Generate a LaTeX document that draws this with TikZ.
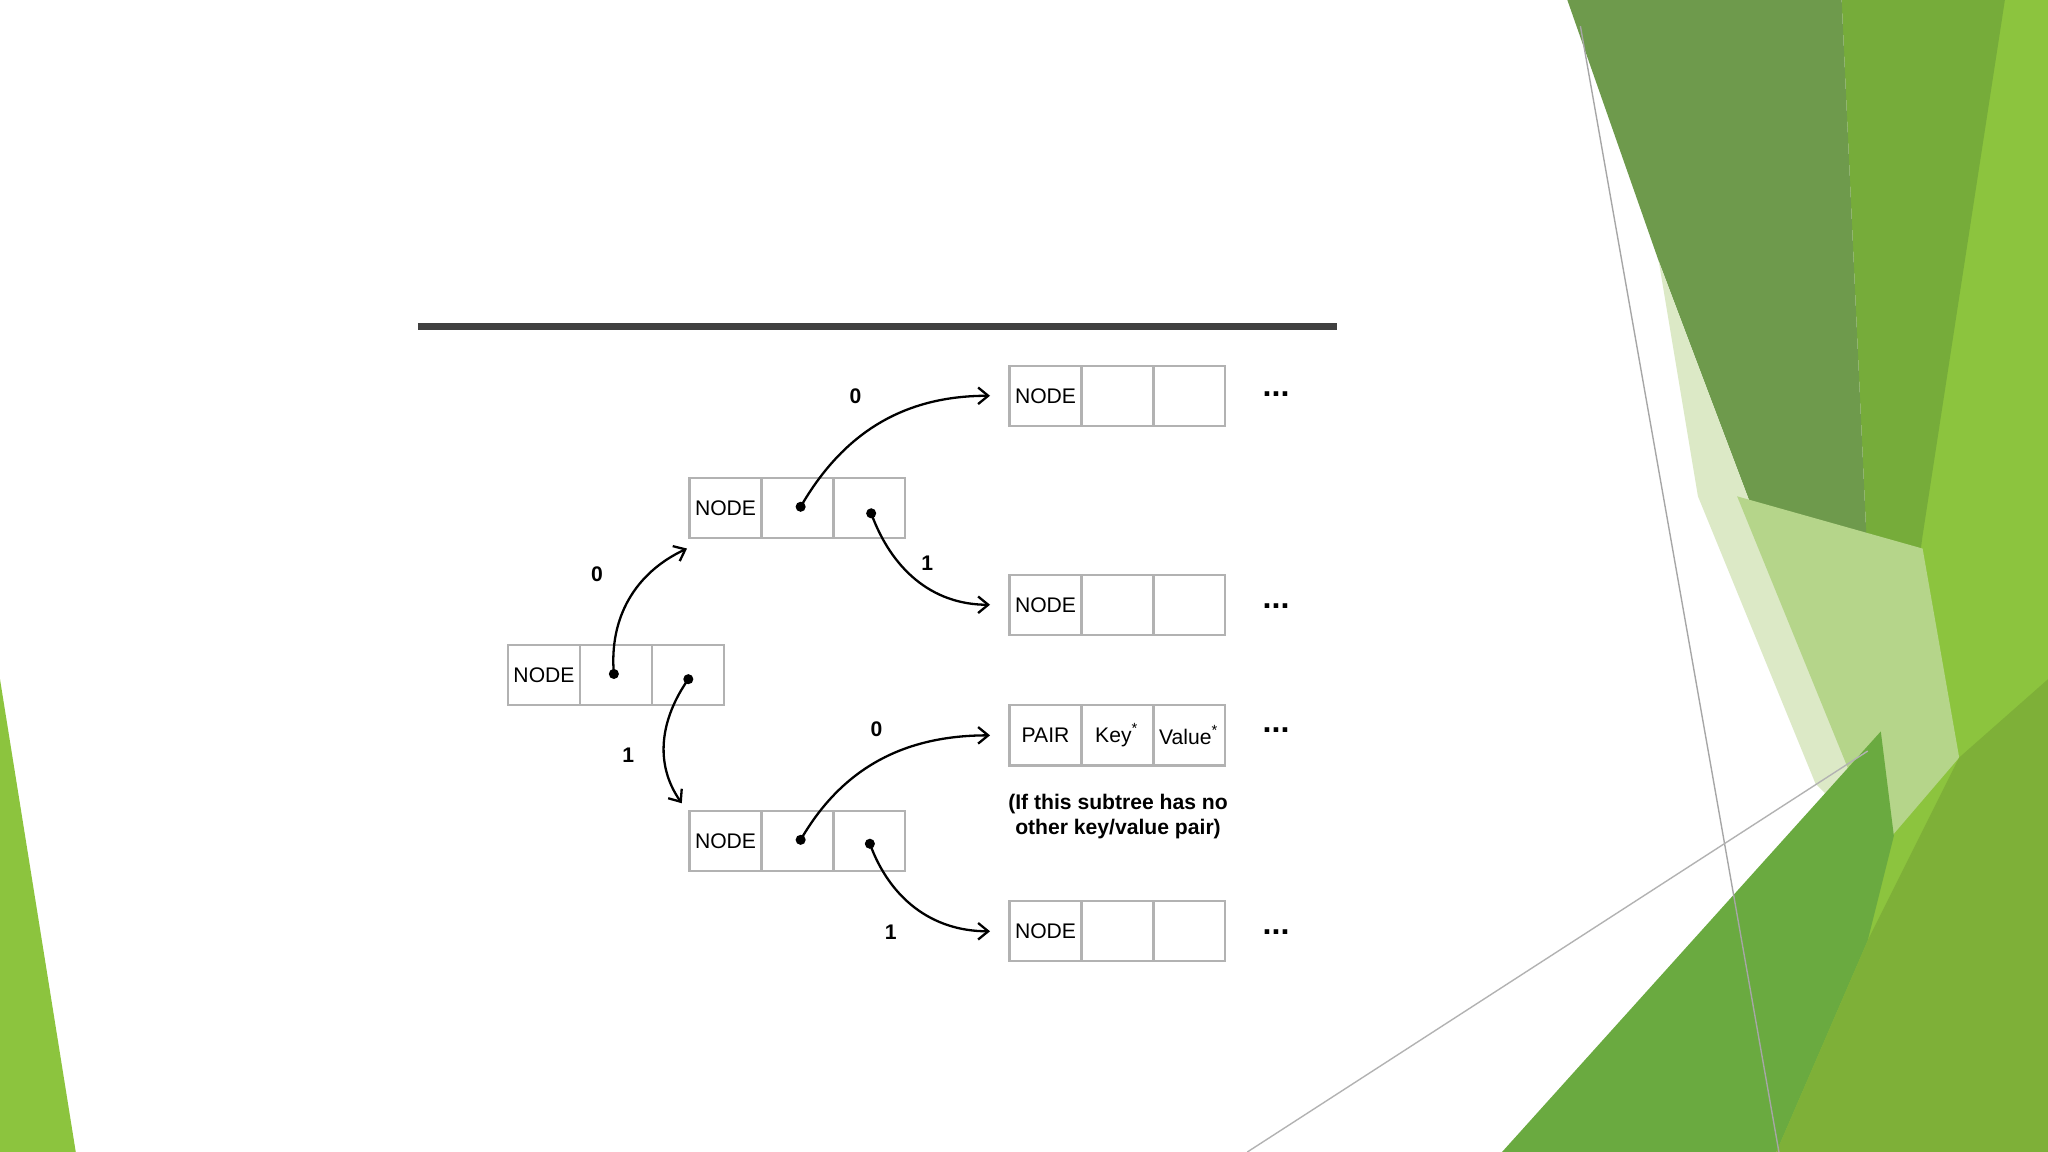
\documentclass[tikz,border=0pt]{standalone}
\usepackage{fontspec}
\setmainfont{Liberation Sans}
\usetikzlibrary{arrows.meta}
\definecolor{darkg}{HTML}{6E9A4C}
\definecolor{medg}{HTML}{76AC3A}
\definecolor{brightg}{HTML}{8CC43E}
\definecolor{paleg}{HTML}{DCE9C6}
\definecolor{lightg}{HTML}{B5D58A}
\definecolor{deepg}{HTML}{6AAA40}
\tikzset{
 cell/.style={draw=black!30,line width=0.5pt,minimum width=0.55cm,minimum height=0.46cm,inner sep=0pt,outer sep=0pt,font=\fontsize{4.6}{5.5}\selectfont},
 lab/.style={font=\fontsize{4.6}{5.5}\selectfont\bfseries},
 link/.style={line width=0.5pt,-{Straight Barb[length=2.2pt,width=3.6pt]}},
 pt/.style={circle,fill=black,inner sep=0pt,minimum size=2.2pt}
}
\newcommand{\rec}[6]{%
 \node[cell,anchor=north west] (#1a) at (#2,#3) {#4};
 \node[cell,anchor=west] (#1b) at (#1a.east) {#5};
 \node[cell,anchor=west] (#1c) at (#1b.east) {#6};
 \coordinate (#1in) at ([xshift=-0.15cm]#1a.west);}
\begin{document}
\begin{tikzpicture}[x=0.01cm,y=-0.01cm]
\useasboundingbox (0,0) rectangle (1568,882);
\fill[white] (0,0) rectangle (1568,882);
% background decoration
\fill[brightg] (1470,0) -- (1568,0) -- (1568,882) -- (1360,882) -- (1440,650) -- (1470,420) -- cycle;
\fill[medg] (1410,0) -- (1535,0) -- (1472,410) -- (1440,650) -- cycle;
\fill[darkg] (1200,0) -- (1410,0) -- (1440,650) -- (1270,200) -- cycle;
\fill[paleg] (1270,200) -- (1440,650) -- (1390,600) -- (1300,380) -- cycle;
\fill[lightg] (1330,380) -- (1440,650) -- (1500,580) -- (1472,420) -- cycle;
\fill[deepg] (1150,882) -- (1440,560) -- (1450,640) -- (1430,720) -- (1360,882) -- cycle;
\fill[brightg!90!black] (1360,882) -- (1430,720) -- (1500,580) -- (1568,520) -- (1568,882) -- cycle;
\fill[brightg] (0,520) -- (58,882) -- (0,882) -- cycle;
\draw[black!35,line width=0.3pt] (1210,20) -- (1362,882);
\draw[black!30,line width=0.3pt] (955,882) -- (1430,575);
% title bar
\draw[black!75,line width=1.4pt] (320,250) -- (1024,250);
% records
\rec{t}{773}{280}{NODE}{}{}
\rec{m}{528}{366}{NODE}{}{}
\rec{n}{773}{440}{NODE}{}{}
\rec{r}{389}{494}{NODE}{}{}
\rec{p}{773}{540}{PAIR}{Key\textsuperscript{*}}{Value\textsuperscript{*}}
\rec{l}{528}{621}{NODE}{}{}
\rec{b}{773}{690}{NODE}{}{}
\foreach \y/\n in {305/d1,467/d2,562/d3,717/d4}
  \node[font=\fontsize{7}{8}\selectfont\bfseries] (\n) at (977,\y-3) {...};
% pointers
\node[pt] (r2) at (470,516) {}; \node[pt] (r3) at (527,520) {};
\node[pt] (m2) at (613,388) {}; \node[pt] (m3) at (667,393) {};
\node[pt] (l2) at (613,643) {}; \node[pt] (l3) at (666,646) {};
\coordinate (mT) at (526,420); \coordinate (lT) at (522,615);
\draw[link] (r2.center) to[out=95,in=205] (mT);
\draw[link] (r3.center) to[out=235,in=125] (lT);
\draw[link] (m2.center) to[out=60,in=180] (tin);
\draw[link] (m3.center) to[out=-70,in=180] (nin);
\draw[link] (l2.center) to[out=60,in=180] (pin);
\draw[link] (l3.center) to[out=-70,in=180] (bin);
\node[lab] (z1) at (457,440) {0};
\node[lab] (o1) at (481,578) {1};
\node[lab] (z2) at (655,303) {0};
\node[lab] (o2) at (710,431) {1};
\node[lab] (z3) at (671,558) {0};
\node[lab] (o3) at (682,714) {1};
\node[lab,align=center] (note) at (856,625) {(If this subtree has no\\other key/value pair)};
\end{tikzpicture}
\end{document}
